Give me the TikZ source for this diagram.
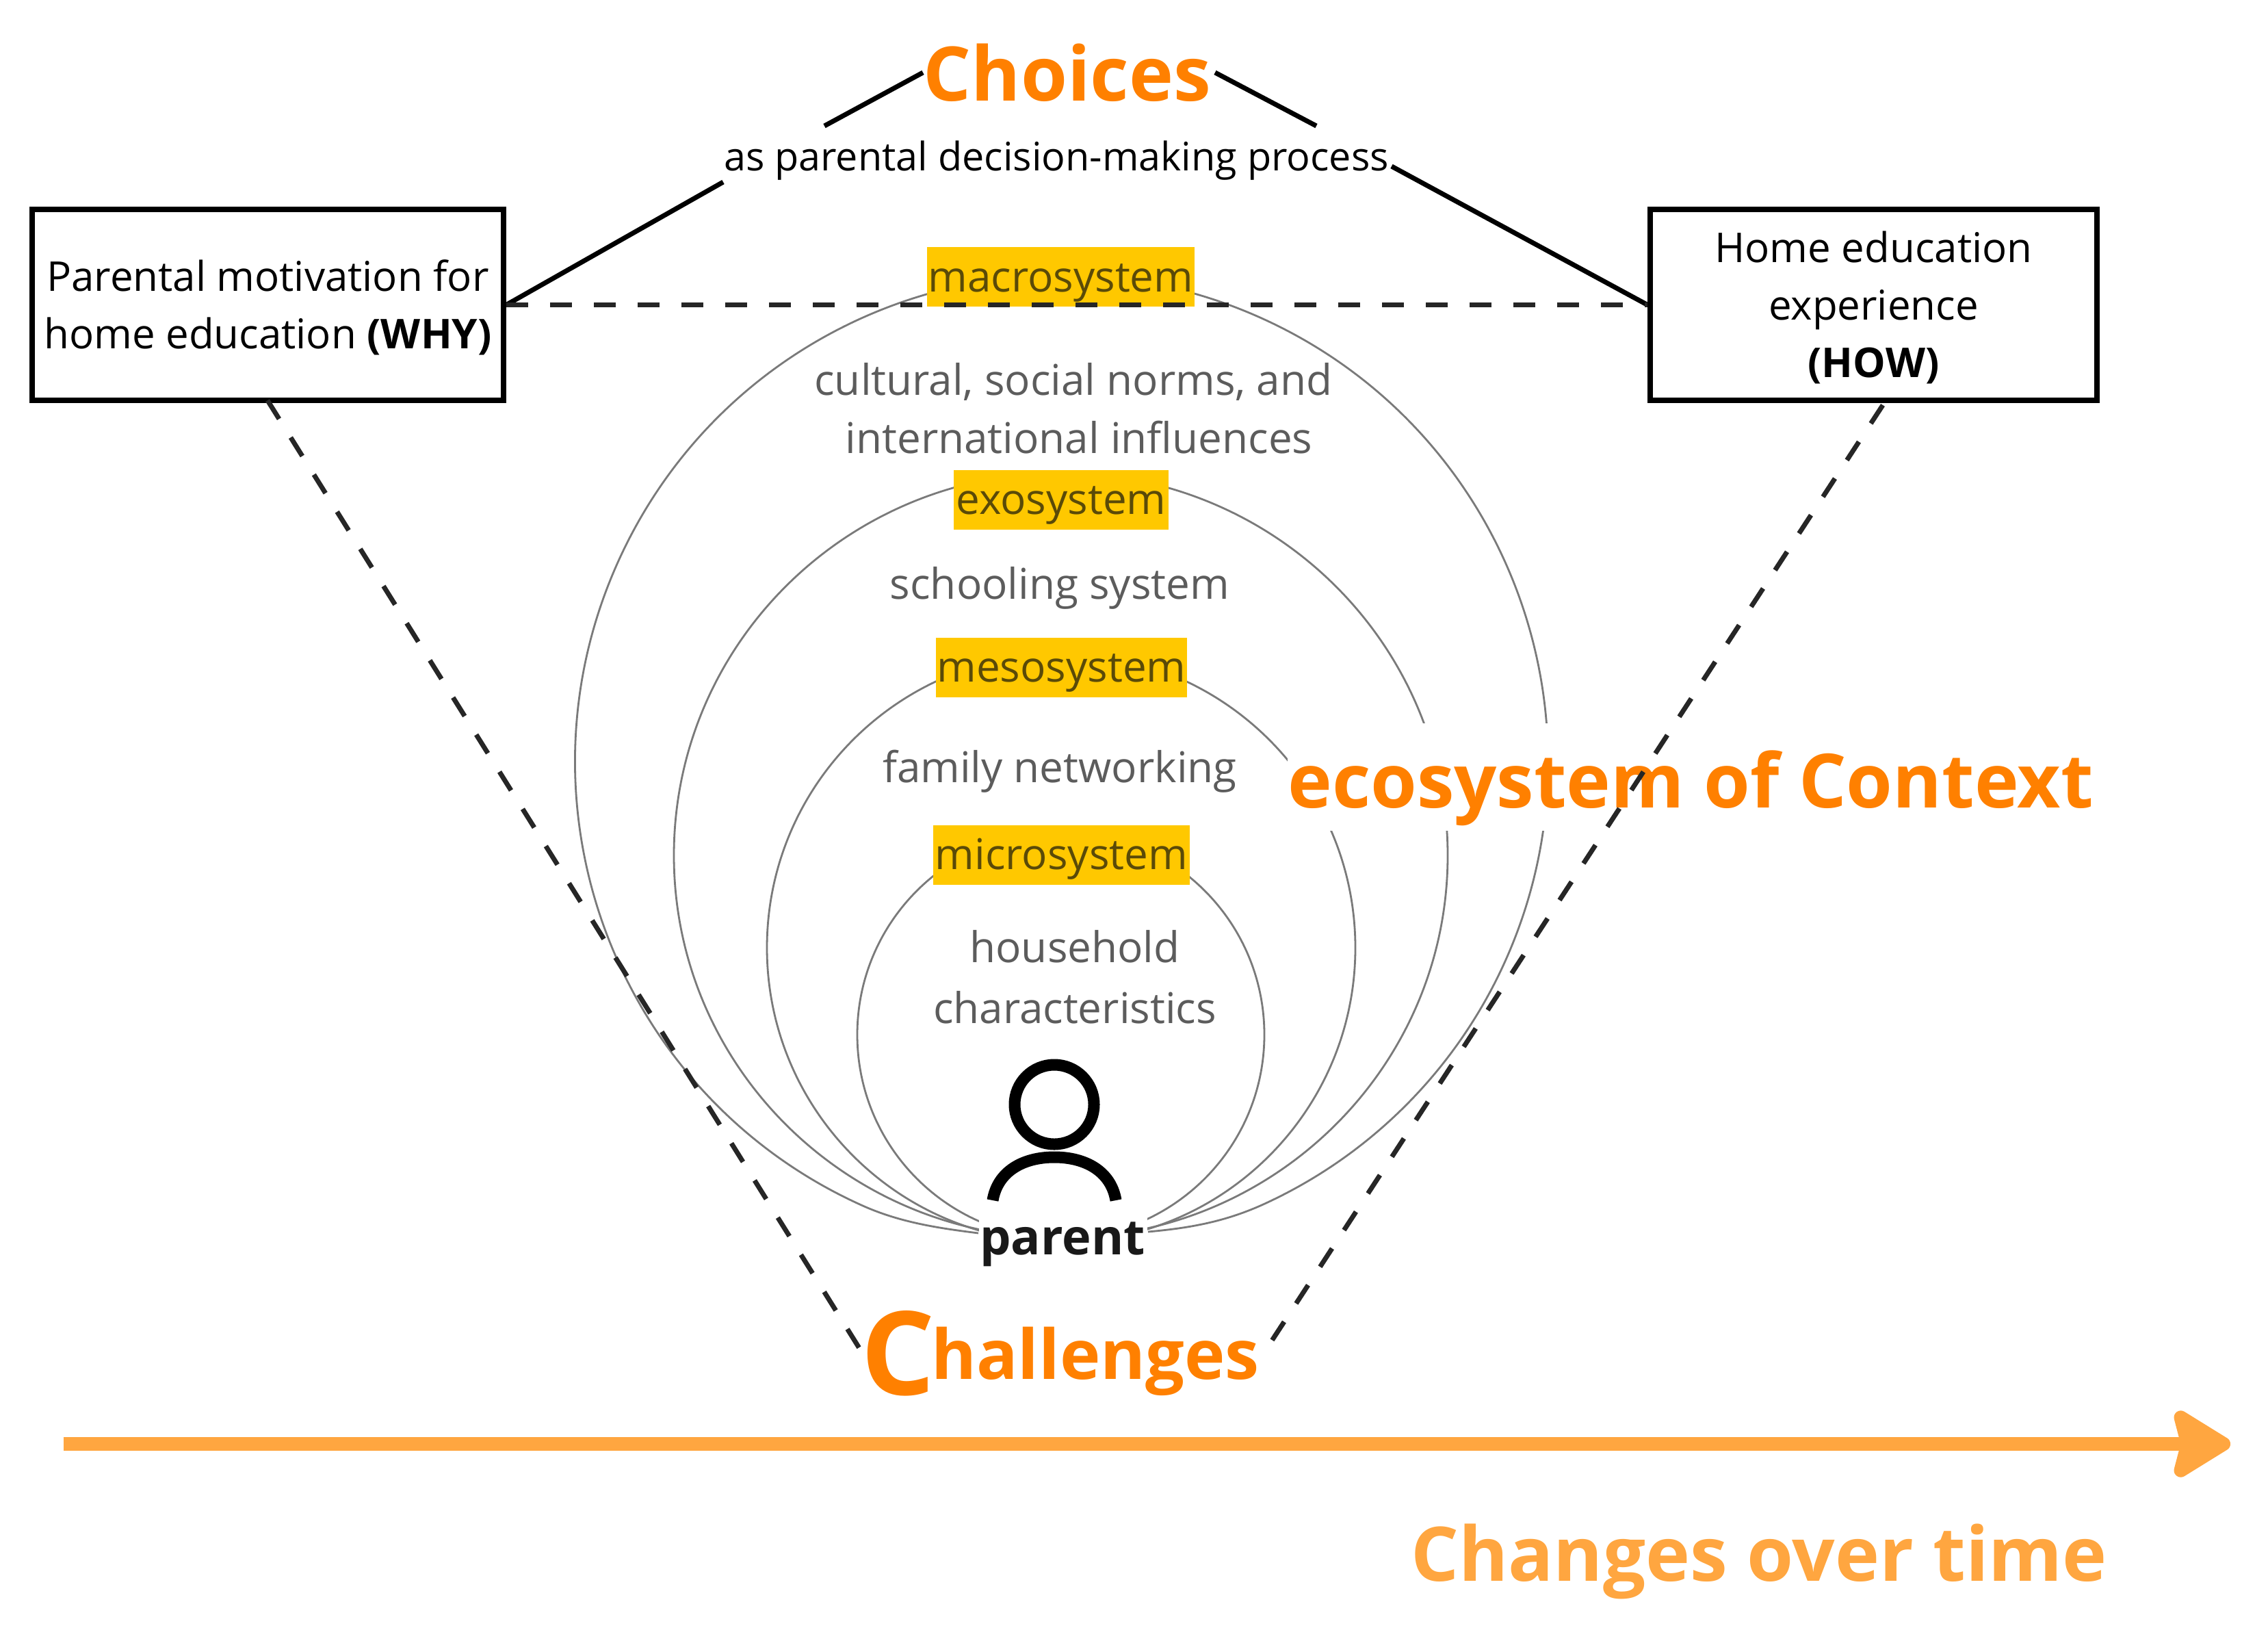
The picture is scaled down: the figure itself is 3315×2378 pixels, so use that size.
\documentclass[tikz,border=0pt]{standalone}
\usepackage{fontspec}
\setmainfont{Open Sans}
\usetikzlibrary{arrows.meta}
\definecolor{chorange}{HTML}{FF8000}
\definecolor{lightorange}{HTML}{FFA640}
\definecolor{gold}{HTML}{FFC800}
\definecolor{goldtext}{HTML}{5A4A08}
\definecolor{greytext}{HTML}{5C5C5C}
\definecolor{arcgrey}{HTML}{7A7A7A}
\definecolor{dashblack}{HTML}{262626}
\newcommand{\fsz}[1]{\fontsize{#1}{#1}\selectfont}
\tikzset{
  sysarc/.style={draw=arcgrey,line width=2.8pt},
  cover/.style={fill=white,draw=none},
  sidebox/.style={draw=black,line width=8pt,fill=white,inner sep=0pt},
  sidetext/.style={inner sep=0pt,align=center,font=\fontsize{60}{84}\selectfont},
  solidlink/.style={draw=black,line width=7pt},
  dashlink/.style={draw=dashblack,line width=7pt,dash pattern=on 32pt off 32pt},
  highlight/.style={fill=gold,text=goldtext,inner xsep=0pt,inner ysep=0pt,
    text height=65pt,text depth=22pt,font=\fsz{62}},
  ctx/.style={text=greytext,anchor=base,inner sep=0pt,font=\fsz{62}},
  headline/.style={text=chorange,anchor=base,inner sep=0pt,font=\fsz{110}\bfseries},
}
\begin{document}
\begin{tikzpicture}[x=1pt,y=-1pt]
\useasboundingbox (0,0) rectangle (3315,2378);
% system arcs
\coordinate (macL) at (1430,1802);
\coordinate (macR) at (1678,1800);
\draw[sysarc] (macL) .. controls (1375,1795) and (1316,1787) .. (1259,1761)
  arc[start angle=114.3,delta angle=311.4,radius=711]
  .. controls (1786,1787) and (1733,1795) .. (macR);
\draw[sysarc] (1550.5,1250) circle[x radius=565.5,y radius=559];
\draw[sysarc] (1551,1385) circle[radius=430];
\draw[sysarc] (1550.5,1512) circle[radius=297.5];
% white panels behind the labels
\fill[cover] (1431,1760) rectangle (1677,1890);
\fill[cover] (1882,1057) rectangle (3075,1214);
% highlighted system labels
\node[highlight,minimum width=391pt] (macro) at (1550.5,404.5) {macrosystem};
\node[highlight,minimum width=314pt] (exo) at (1551,730) {exosystem};
\node[highlight,minimum width=367pt] (meso) at (1551.5,975) {mesosystem};
\node[highlight,minimum width=375pt] (micro) at (1551.5,1249) {microsystem};
% context texts
\node[ctx] (cult1) at (1569,577) {cultural, social norms, and};
\node[ctx] (cult2) at (1577,662) {international influences};
\node[ctx] (school) at (1549,875) {schooling system};
\node[ctx] (family) at (1549,1143) {family networking};
\node[ctx] (house) at (1571,1406) {household};
\node[ctx] (chars) at (1571,1495) {characteristics};
% parent icon
\draw[black,line width=17pt] (1541,1614) circle[radius=58];
\draw[black,line width=17pt] (1451,1754) .. controls (1458,1712) and (1495,1691) .. (1541,1691)
  .. controls (1587,1691) and (1624,1712) .. (1631,1754);
\node[anchor=base,inner sep=0pt,font=\fsz{72}\bfseries,text=black!90] (parent) at (1553,1833) {parent};
% boxes
\node[sidebox,minimum width=689pt,minimum height=279pt] (why) at (391.5,445.5) {};
\node[sidebox,minimum width=653pt,minimum height=279pt] (how) at (2738.5,445.5) {};
\node[sidetext] (whytext) at (391.5,449.5) {Parental motivation for\\home education \textbf{(WHY)}};
\node[sidetext] (howtext) at (2738.5,449.5) {Home education\\experience\\\textbf{(HOW)}};
% titles
\node[headline] (choices) at (1560,147) {Choices};
\node[anchor=base,inner sep=0pt,font=\fsz{57.5}] (process) at (1544,249) {as parental decision-making process};
\node[headline,font=\fsz{109.5}\bfseries] (context) at (2471,1180) {ecosystem of Context};
\node[headline,anchor=base west,font=\fsz{170}\bfseries] (bigc) at (1258,2038) {C};
\node[headline,anchor=base west,font=\fsz{100.5}\bfseries] (hallenges) at (1361,2015) {hallenges};
\node[headline,text=lightorange] (changes) at (2571,2310) {Changes over time};
% connector ends
\coordinate (sl1) at (1057,266);
\coordinate (sl2) at (1205,184);
\coordinate (sl3) at (1349,106);
\coordinate (sr1) at (1776,106);
\coordinate (sr2) at (1924,184);
\coordinate (sr3) at (2034,243);
\coordinate (whybot) at (391,585);
\coordinate (howbot) at (2752,592);
\coordinate (dl) at (1256,1970);
\coordinate (dr) at (1859,1959);
\coordinate (arrowstart) at (93,2110);
\coordinate (arrowtip) at (3260,2110);
% connectors
\draw[solidlink] (why.east) -- (sl1);
\draw[solidlink] (sl2) -- (sl3);
\draw[solidlink] (sr1) -- (sr2);
\draw[solidlink] (sr3) -- (how.west);
\draw[dashlink] (why.east) -- (how.west);
\draw[dashlink] (whybot) -- (dl);
\draw[dashlink] (howbot) -- (dr);
\draw[draw=lightorange,line width=20pt,-{Stealth[length=96pt,width=116pt,inset=14pt,round]}] (arrowstart) -- (arrowtip);
\end{tikzpicture}
\end{document}
